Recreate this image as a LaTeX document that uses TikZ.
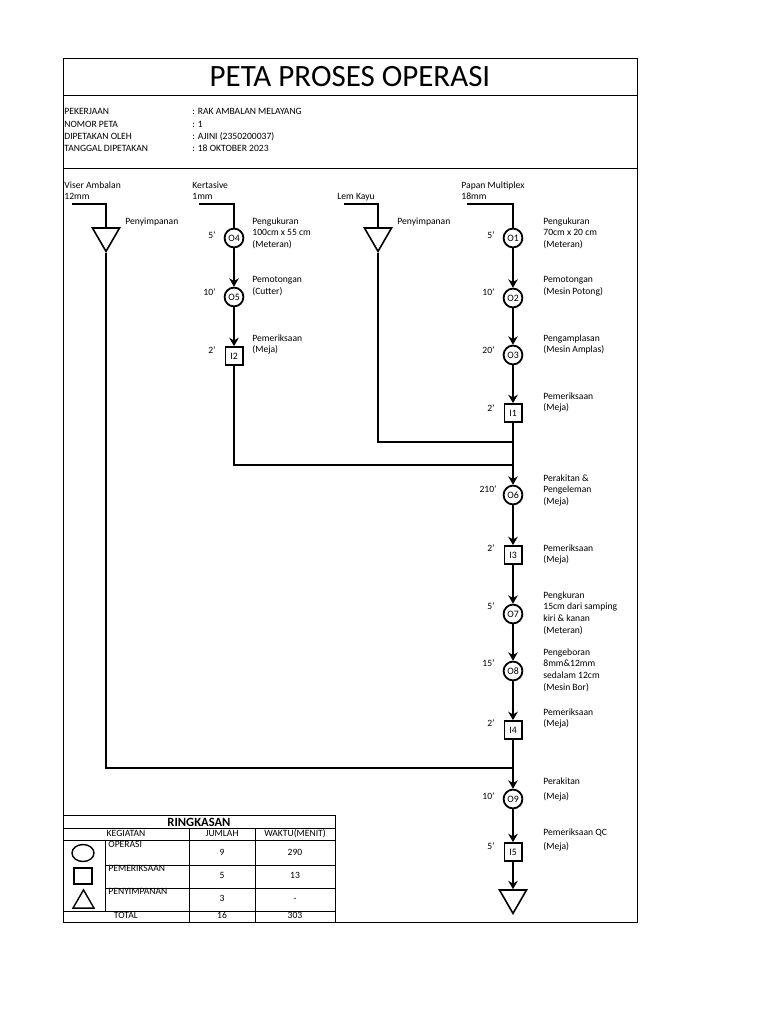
\documentclass[tikz,border=0pt]{standalone}
\usepackage{fontspec}
\setmainfont{Carlito}
\usetikzlibrary{arrows.meta,shapes.geometric}
\begin{document}
\begin{tikzpicture}[x=0.5pt,y=-0.5pt,
  sm/.style={font=\fontsize{4.8}{5.9}\selectfont, inner sep=0pt},
  one/.style={text height=3.4pt, text depth=0.9pt},
  lbl/.style={sm, anchor=north west, align=left},
  inf/.style={sm, one, anchor=west},
  tm/.style={sm, one, anchor=east},
  op/.style={circle, draw, line width=0.9pt, minimum size=9.4pt, inner sep=0pt, font=\fontsize{4.9}{5.9}\selectfont},
  insp/.style={rectangle, draw, line width=0.9pt, minimum width=8.6pt, minimum height=9pt, inner sep=0pt, font=\fontsize{4.9}{5.9}\selectfont},
  stor/.style={regular polygon, regular polygon sides=3, shape border rotate=180, draw, line width=0.8pt, minimum size=15.6pt, inner sep=0pt},
  flow/.style={line width=1pt},
  arr/.style={flow, -{Stealth[length=4.2pt,width=4.8pt]}},
  frame/.style={line width=0.5pt},
  tcell/.style={sm, one, anchor=center},
]
\useasboundingbox (0,0) rectangle (768,1024);
\fill[white] (0,0) rectangle (768,1024);
% frame
\draw[frame] (63,58) rectangle (637,922);
\draw[frame] (63,95) -- (637,95);
\draw[frame] (63,168) -- (637,168);
\node[inner sep=0pt, font=\fontsize{15.5}{18}\selectfont] (title) at (350,77) {PETA PROSES OPERASI};
% header info
\node[inf] (h1) at (64,112) {PEKERJAAN};
\node[inf] (h2) at (64,125) {NOMOR PETA};
\node[inf] (h3) at (64,137) {DIPETAKAN OLEH};
\node[inf] (h4) at (64,149) {TANGGAL DIPETAKAN};
\node[inf] (v1) at (192,112) {: RAK AMBALAN MELAYANG};
\node[inf] (v2) at (192,125) {: 1};
\node[inf] (v3) at (192,137) {: AJINI (2350200037)};
\node[inf] (v4) at (192,149) {: 18 OKTOBER 2023};
% material labels
\node[lbl] (mv) at (64,181) {Viser Ambalan\\12mm};
\node[lbl] (mk) at (192,181) {Kertasive\\1mm};
\node[lbl] (ml) at (337,193) {Lem Kayu};
\node[lbl] (mp) at (461,181) {Papan Multiplex\\18mm};
% Viser Ambalan
\coordinate (v0) at (72,204);
\node[stor] (tv) at (106,235.8) {};
\node[inf] (tvl) at (125,222) {Penyimpanan};
\draw[flow] (v0) -| (tv.north);
\coordinate (j3) at (513,768);
\draw[flow] (tv.south) |- (j3);
% Kertasive
\coordinate (k0) at (199,204);
\node[op] (o4) at (234,238) {O4};
\node[op] (o5) at (234,297) {O5};
\node[insp] (i2) at (234,356) {I2};
\draw[flow] (k0) -| (o4.north);
\draw[arr] (o4) -- (o5);
\draw[arr] (o5) -- (i2);
\coordinate (j2) at (513,465);
\draw[flow] (i2.south) |- (j2);
\node[tm] (t4) at (216,236) {5'};
\node[tm] (t5) at (216,293) {10'};
\node[tm] (t2) at (216,351) {2'};
\node[lbl] (l4) at (252,217) {Pengukuran\\100cm x 55 cm\\(Meteran)};
\node[lbl] (l5) at (252,276) {Pemotongan\\(Cutter)};
\node[lbl] (l2) at (252,334) {Pemeriksaan\\(Meja)};
% Lem Kayu
\coordinate (l0) at (344,204);
\node[stor] (tl) at (378,235.8) {};
\node[inf] (tll) at (397,222) {Penyimpanan};
\draw[flow] (l0) -| (tl.north);
\coordinate (j1) at (513,442);
\draw[flow] (tl.south) |- (j1);
% Papan Multiplex main line
\coordinate (p0) at (467,204);
\node[op] (o1) at (513,238) {O1};
\node[op] (o2) at (513,298) {O2};
\node[op] (o3) at (513,355) {O3};
\node[insp] (i1) at (513,413) {I1};
\node[op] (o6) at (513,495) {O6};
\node[insp] (i3) at (513,555) {I3};
\node[op] (o7) at (513,614) {O7};
\node[op] (o8) at (513,671) {O8};
\node[insp] (i4) at (513,730) {I4};
\node[op] (o9) at (513,799) {O9};
\node[insp] (i5) at (513,852) {I5};
\node[stor] (tf) at (513,897.8) {};
\draw[flow] (p0) -| (o1.north);
\draw[arr] (o1) -- (o2);
\draw[arr] (o2) -- (o3);
\draw[arr] (o3) -- (i1);
\draw[arr] (i1) -- (o6);
\draw[arr] (o6) -- (i3);
\draw[arr] (i3) -- (o7);
\draw[arr] (o7) -- (o8);
\draw[arr] (o8) -- (i4);
\draw[arr] (i4) -- (o9);
\draw[arr] (o9) -- (i5);
\draw[arr] (i5) -- (tf.north);
% times
\node[tm] (t1) at (495,236) {5'};
\node[tm] (tt2) at (495,293) {10'};
\node[tm] (t3) at (495,351) {20'};
\node[tm] (ti1) at (495,409) {2'};
\node[tm] (t6) at (497,490) {210'};
\node[tm] (ti3) at (495,549) {2'};
\node[tm] (t7) at (495,607) {5'};
\node[tm] (t8) at (495,664) {15'};
\node[tm] (ti4) at (495,724) {2'};
\node[tm] (t9) at (495,797) {10'};
\node[tm] (ti5) at (495,847) {5'};
% descriptions
\node[lbl] (d1) at (543,217) {Pengukuran\\70cm x 20 cm\\(Meteran)};
\node[lbl] (d2) at (543,276) {Pemotongan\\(Mesin Potong)};
\node[lbl] (d3) at (543,334) {Pengamplasan\\(Mesin Amplas)};
\node[lbl] (d4) at (543,392) {Pemeriksaan\\(Meja)};
\node[lbl] (d6) at (543,474) {Perakitan \&\\Pengeleman\\(Meja)};
\node[lbl] (di3) at (543,544) {Pemeriksaan\\(Meja)};
\node[lbl] (d7) at (543,591) {Pengkuran\\15cm dari samping\\kiri \& kanan\\(Meteran)};
\node[lbl] (d8) at (543,648) {Pengeboran\\8mm\&12mm\\sedalam 12cm\\(Mesin Bor)};
\node[lbl] (di4) at (543,708) {Pemeriksaan\\(Meja)};
\node[lbl] (d9) at (543,777) {Perakitan\\[1.6pt](Meja)};
\node[lbl] (di5) at (543,828) {Pemeriksaan QC\\[1.1pt](Meja)};
% summary table
\draw[frame] (63,815) -- (335,815);
\draw[frame] (63,828) -- (335,828);
\draw[frame] (63,840) -- (335,840);
\draw[frame] (105,865) -- (335,865);
\draw[frame] (105,888) -- (335,888);
\draw[frame] (63,911) -- (335,911);
\draw[frame] (105,840) -- (105,911);
\draw[frame] (189,828) -- (189,922);
\draw[frame] (255,828) -- (255,922);
\draw[frame] (335,815) -- (335,922);
\node[inner sep=0pt, text height=4.5pt, text depth=0pt, font=\fontsize{6.3}{7}\selectfont\bfseries] (rk) at (199,821.5) {RINGKASAN};
\node[tcell] (hk) at (126,834) {KEGIATAN};
\node[tcell] (hj) at (222,834) {JUMLAH};
\node[tcell] (hw) at (295,834) {WAKTU(MENIT)};
\node[inf] (ro) at (108,845) {OPERASI};
\node[inf] (rp) at (108,869) {PEMERIKSAAN};
\node[inf] (rs) at (108,892) {PENYIMPANAN};
\node[tcell] (n1) at (222,853) {9};
\node[tcell] (n2) at (222,876) {5};
\node[tcell] (n3) at (222,899) {3};
\node[tcell] (w1) at (295,853) {290};
\node[tcell] (w2) at (295,876) {13};
\node[tcell] (w3) at (295,899) {-};
\node[tcell] (tt) at (126,916) {TOTAL};
\node[tcell] (tn) at (222,916) {16};
\node[tcell] (tw) at (295,916) {303};
\node[ellipse, draw, line width=0.7pt, minimum width=11pt, minimum height=8.5pt, inner sep=0pt] (ic1) at (83,853) {};
\node[rectangle, draw, line width=0.7pt, minimum width=9pt, minimum height=8pt, inner sep=0pt] (ic2) at (83,876) {};
\node[regular polygon, regular polygon sides=3, draw, line width=0.7pt, minimum size=12.1pt, inner sep=0pt] (ic3) at (83.5,902) {};
\end{tikzpicture}
\end{document}
